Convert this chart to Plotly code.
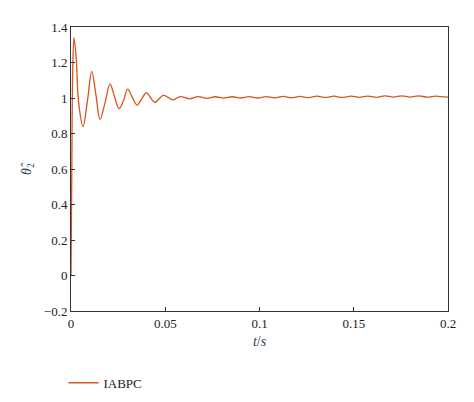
import plotly.graph_objects as go

t = [0, 0.0004, 0.0009, 0.0016, 0.0028, 0.0040, 0.0064, 0.0088, 0.011, 0.0132, 0.0154,
     0.018, 0.0207, 0.023, 0.0255, 0.028, 0.030, 0.0325, 0.035, 0.0375, 0.040, 0.0423,
     0.0445, 0.049, 0.054, 0.058, 0.063, 0.0675, 0.072, 0.0765, 0.081, 0.0855, 0.09,
     0.0945, 0.099, 0.1035, 0.108, 0.1125, 0.117, 0.1215, 0.126, 0.1305, 0.135, 0.1395,
     0.144, 0.1485, 0.153, 0.1575, 0.162, 0.1665, 0.171, 0.1755, 0.18, 0.1845, 0.189,
     0.1935, 0.198, 0.2]
theta = [0.0, 0.55, 1.15, 1.34, 1.22, 0.98, 0.84, 0.99, 1.15, 1.02, 0.88,
         0.97, 1.08, 1.01, 0.94, 0.99, 1.05, 1.005, 0.96, 0.995, 1.03, 1.0,
         0.975, 1.015, 0.99, 1.008, 0.995, 1.008, 0.998, 1.007, 0.999, 1.007, 1.0,
         1.008, 1.0, 1.008, 1.001, 1.009, 1.002, 1.009, 1.002, 1.01, 1.003, 1.01,
         1.003, 1.011, 1.004, 1.011, 1.004, 1.012, 1.005, 1.012, 1.005, 1.012, 1.005,
         1.011, 1.006, 1.005]

font = "Liberation Serif"
fig = go.Figure(go.Scatter(x=t, y=theta, mode="lines", name="IABPC",
                           line=dict(color="#d9541e", width=1.3, shape="spline", smoothing=1.0)))

axis = dict(showline=True, linecolor="#333", linewidth=1, mirror=True, ticks="inside",
            ticklen=4, tickcolor="#333", showgrid=False, zeroline=False,
            tickfont=dict(family=font, size=13, color="#222"))
fig.update_xaxes(axis, range=[0, 0.2], tickvals=[0, 0.05, 0.1, 0.15, 0.2],
                 ticktext=["0", "0.05", "0.1", "0.15", "0.2"],
                 title=dict(text="<i>t</i>/<i>s</i>", font=dict(family=font, size=14), standoff=6))
fig.update_yaxes(axis, range=[-0.2, 1.4], tickvals=[-0.2, 0, 0.2, 0.4, 0.6, 0.8, 1, 1.2, 1.4],
                 ticktext=["−0.2", "0", "0.2", "0.4", "0.6", "0.8", "1", "1.2", "1.4"],
                 title=dict(text="<i>θ̂</i><sub>2</sub>", font=dict(family=font, size=14), standoff=8))
fig.update_layout(width=474, height=402, margin=dict(l=63, r=34, t=14, b=98),
                  plot_bgcolor="white", paper_bgcolor="white", showlegend=True,
                  legend=dict(x=-0.02, y=-0.2, xanchor="left", yanchor="top",
                              font=dict(family=font, size=13, color="#222")))
fig.write_html("out.html")
